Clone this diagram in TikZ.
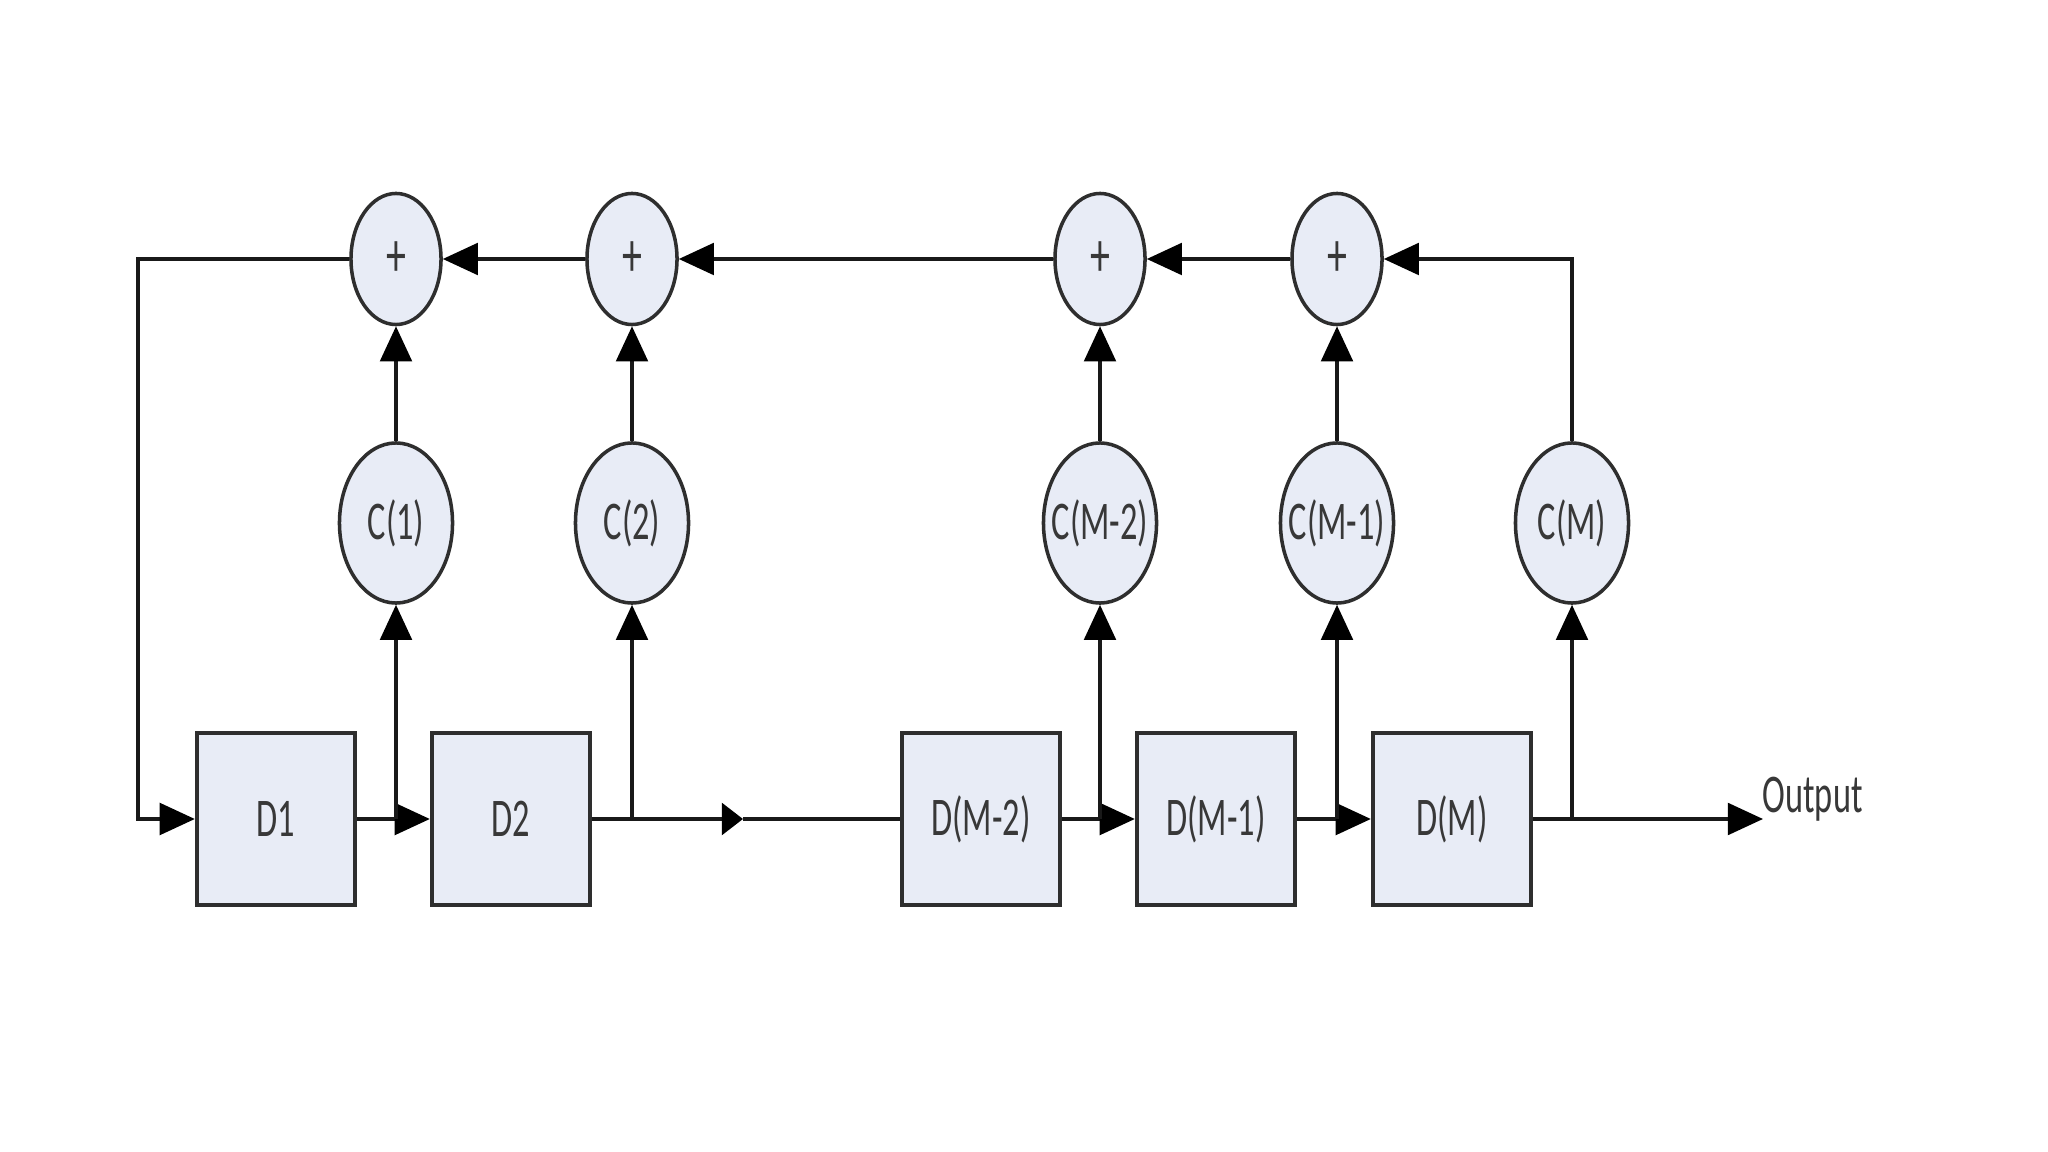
\documentclass[tikz,border=0pt]{standalone}
\usepackage{fontspec}
\setmainfont{Carlito}
\usetikzlibrary{shapes.geometric,arrows.meta}
\definecolor{fillc}{HTML}{E8ECF6}
\definecolor{edgec}{HTML}{2E2E2E}
\definecolor{txtc}{HTML}{383838}
\newcommand{\sqz}[1]{\makebox[0pt]{\scalebox{0.63}[1]{#1}}}
\begin{document}
\begin{tikzpicture}[x=0.01cm,y=-0.01cm,
  lbl/.style={font=\fontsize{15.5}{18}\selectfont, text=txtc},
  delay/.style={lbl, rectangle, draw=edgec, fill=fillc, line width=1.2pt,
    minimum width=1.58cm, minimum height=1.72cm, inner sep=0pt},
  coef/.style={lbl, ellipse, draw=edgec, fill=fillc, line width=1pt,
    minimum width=1.13cm, minimum height=1.60cm, inner sep=0pt},
  adder/.style={lbl, ellipse, draw=edgec, fill=fillc, line width=1pt,
    minimum width=0.90cm, minimum height=1.31cm, inner sep=0pt},
  wire/.style={line width=1pt, draw=black!90},
  arr/.style={wire, -{Triangle[length=10pt,width=9pt,color=black]}},
  sarr/.style={wire, -{Triangle[length=6pt,width=9pt,color=black]}},
]
\useasboundingbox (0,0) rectangle (2048,1152);
\fill[white] (0,0) rectangle (2048,1152);

% delay boxes
\node[delay] (d1)  at (276,819)  {\sqz{D1}};
\node[delay] (d2)  at (511,819)  {\sqz{D2}};
\node[delay] (dm2) at (981,819)  {\sqz{D(M-2)}};
\node[delay] (dm1) at (1216,819) {\sqz{D(M-1)}};
\node[delay] (dm)  at (1452,819) {\sqz{D(M)}};

% coefficient ellipses
\node[coef] (c1)  at (396,523)  {\sqz{C(1)}};
\node[coef] (c2)  at (632,523)  {\sqz{C(2)}};
\node[coef] (cm2) at (1100,523) {\sqz{C(M-2)}};
\node[coef] (cm1) at (1337,523) {\sqz{C(M-1)}};
\node[coef] (cm)  at (1572,523) {\sqz{C(M)}};

% adders
\node[adder, font=\fontsize{18}{20}\selectfont] (p1) at (396,259)  {\sqz{+}};
\node[adder, font=\fontsize{18}{20}\selectfont] (p2) at (632,259)  {\sqz{+}};
\node[adder, font=\fontsize{18}{20}\selectfont] (p3) at (1100,259) {\sqz{+}};
\node[adder, font=\fontsize{18}{20}\selectfont] (p4) at (1337,259) {\sqz{+}};

% helper coordinates
\coordinate (tl) at (138,259);
\coordinate (bl) at (138,819);
\coordinate (b1) at (396,819);
\coordinate (b2) at (632,819);
\coordinate (b3) at (1100,819);
\coordinate (b4) at (1337,819);
\coordinate (b5) at (1572,819);
\coordinate (tr) at (1572,259);
\coordinate (mid) at (743,819);
\coordinate (out) at (1763,819);

% feedback loop
\draw[arr] (p1.west) -- (tl) -- (bl) -- (d1.west);

% delay chain
\draw[arr] (d1.east) -- (d2.west);
\draw[sarr] (d2.east) -- (mid);
\draw[wire] (mid) -- (dm2.west);
\draw[arr] (dm2.east) -- (dm1.west);
\draw[arr] (dm1.east) -- (dm.west);
\draw[arr] (dm.east) -- (out);

% taps
\draw[arr] (b1) -- (c1.south);
\draw[arr] (b2) -- (c2.south);
\draw[arr] (b3) -- (cm2.south);
\draw[arr] (b4) -- (cm1.south);
\draw[arr] (b5) -- (cm.south);

% coefficients to adders
\draw[arr] (c1.north) -- (p1.south);
\draw[arr] (c2.north) -- (p2.south);
\draw[arr] (cm2.north) -- (p3.south);
\draw[arr] (cm1.north) -- (p4.south);
\draw[arr] (cm.north) -- (tr) -- (p4.east);

% adder chain
\draw[arr] (p4.west) -- (p3.east);
\draw[arr] (p3.west) -- (p2.east);
\draw[arr] (p2.west) -- (p1.east);

% output label
\node[lbl, anchor=base west, inner sep=0pt] (outlbl) at (1762,812) {\scalebox{0.63}[1]{Output}};
\end{tikzpicture}
\end{document}
